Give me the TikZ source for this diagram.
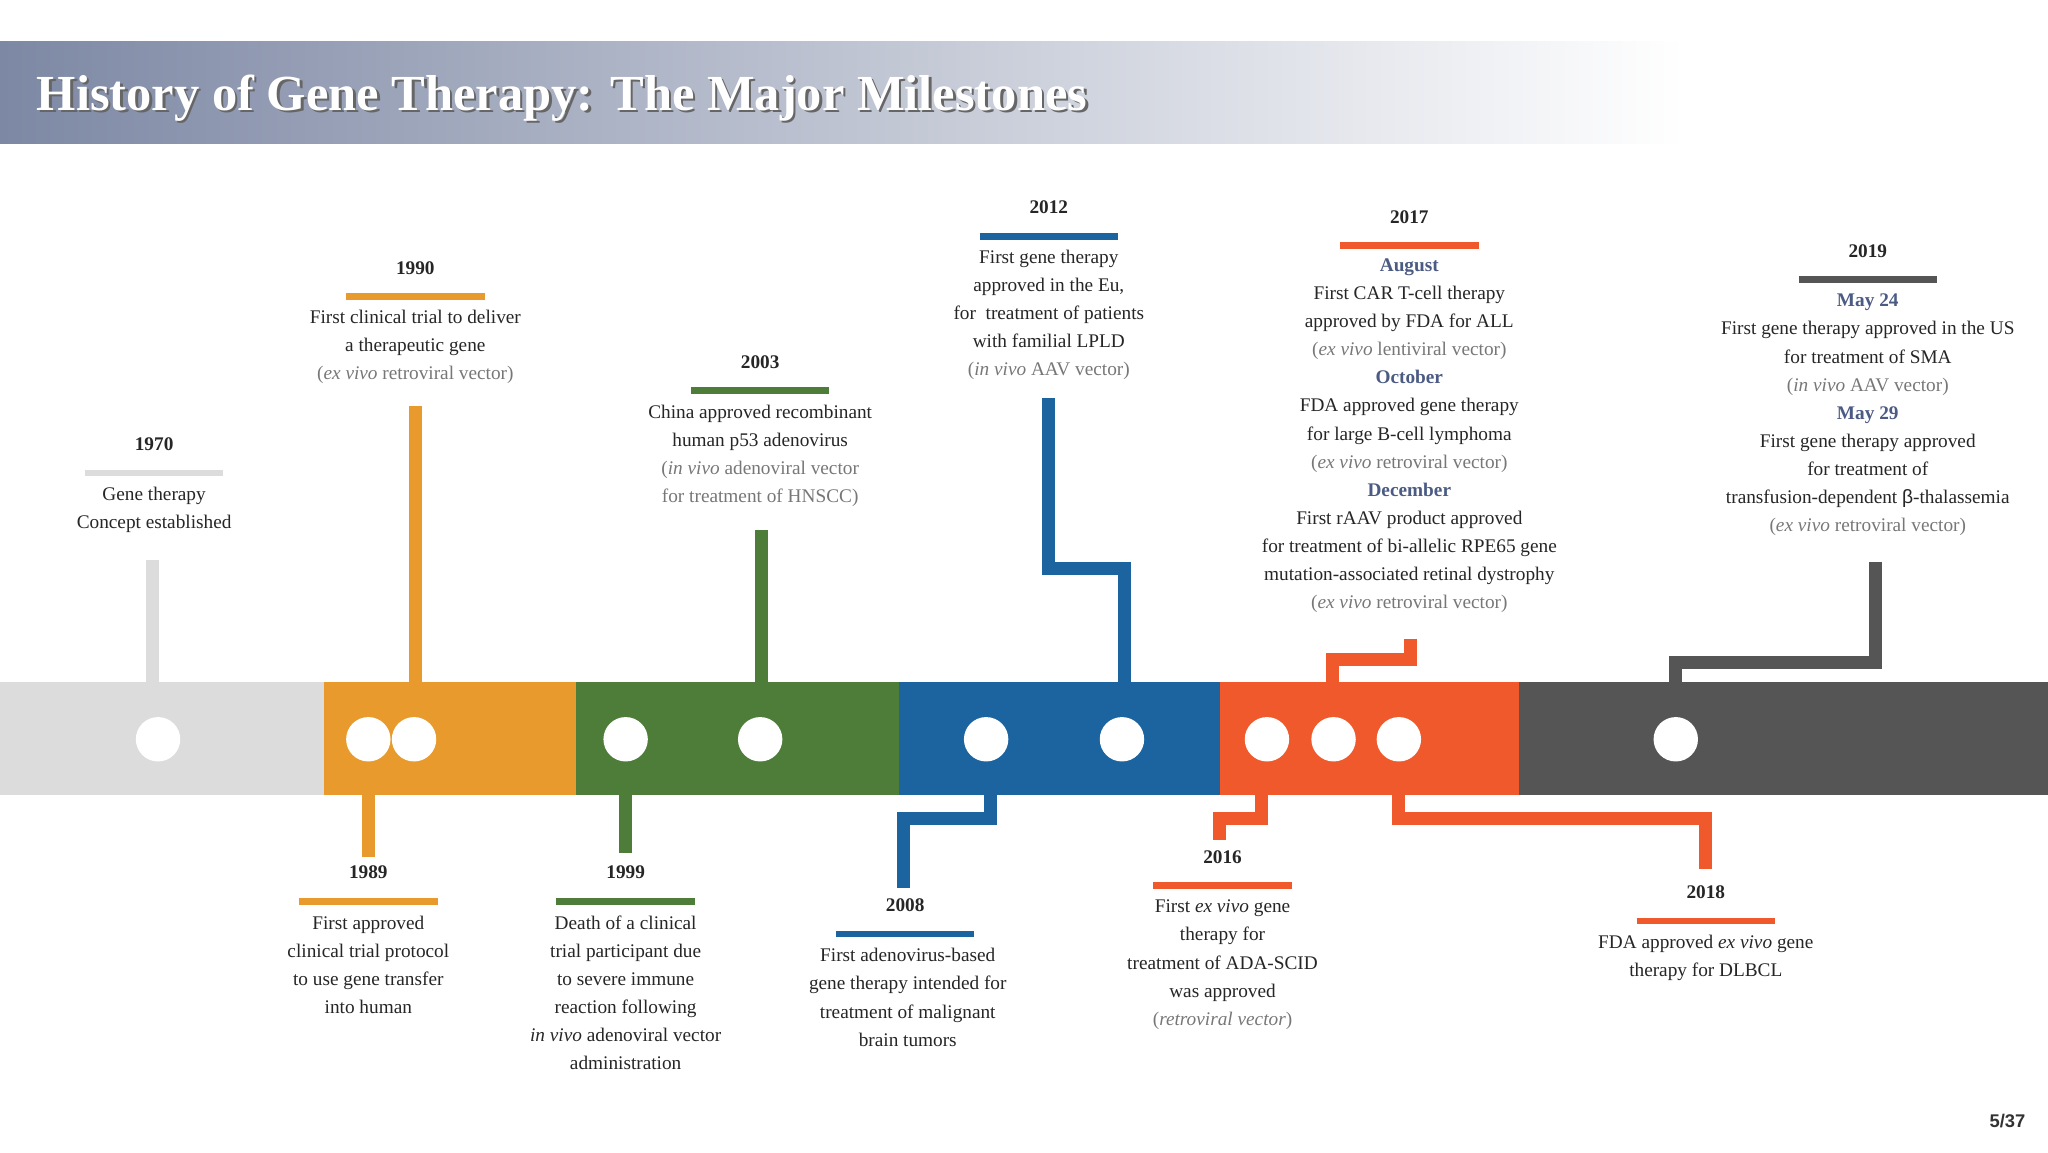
\documentclass[tikz,border=0pt]{standalone}
\usepackage{fontspec}
\setmainfont{Liberation Serif}
\newfontfamily\pgnum{Liberation Sans}
\usetikzlibrary{shadows}
\definecolor{lg}{HTML}{DCDCDC}
\definecolor{og}{HTML}{E99A2C}
\definecolor{gr}{HTML}{4E7D3A}
\definecolor{bl}{HTML}{1B64A0}
\definecolor{rd}{HTML}{F0592B}
\definecolor{dg}{HTML}{555555}
\definecolor{gt}{HTML}{777777}
\definecolor{mo}{HTML}{4B5B84}
\definecolor{ban}{HTML}{7D88A4}
\newcommand\gp[1]{\textcolor{gt}{#1}}
\newcommand\mon[1]{\textcolor{mo}{\bfseries #1}}
\begin{document}
\begin{tikzpicture}[x=0.05cm,y=-0.05cm,
  txt/.style={font=\fontsize{21}{30.6}\selectfont, align=center, anchor=north, inner sep=0pt, text=black!85},
  yr/.style={font=\fontsize{21}{25}\selectfont\bfseries, inner sep=0pt, text=black!85},
  ubar/.style={line width=0.25cm},
  conn/.style={line width=0.5cm},
  dot/.style={circle, fill=white, minimum size=1.7cm, inner sep=0pt}]
\useasboundingbox (0,0) rectangle (1568,882);
\fill[white] (0,0) rectangle (1568,882);
% banner
\shade[left color=ban, right color=white] (0,32) rectangle (1290,110);
\node[anchor=west, font=\fontsize{55}{60}\selectfont\bfseries, text=black!60, inner sep=0pt] (tsh) at (30,77) {History of Gene Therapy: The Major Milestones};
\node[anchor=west, font=\fontsize{55}{60}\selectfont\bfseries, text=white, inner sep=0pt] (title) at (28,75) {History of Gene Therapy: The Major Milestones};
% band
\fill[lg] (0,522) rectangle (248,609);
\fill[og] (248,522) rectangle (441,609);
\fill[gr] (441,522) rectangle (688,609);
\fill[bl] (688,522) rectangle (934,609);
\fill[rd] (934,522) rectangle (1163,609);
\fill[dg] (1163,522) rectangle (1568,609);
\foreach \x/\n in {121/a,282/b,317/c,479/d,582/e,755/f,859/g,970/h,1021/i,1071/j,1283/k}
  \node[dot] (d\n) at (\x,566) {};
% connectors above
\draw[conn,lg] (117,429) -- (117,522);
\draw[conn,og] (318,311) -- (318,522);
\draw[conn,gr] (583,406) -- (583,522);
\draw[conn,bl] (803,305) -- (803,435) -- (861,435) -- (861,522);
\draw[conn,rd] (1080,489) -- (1080,505) -- (1020,505) -- (1020,522);
\draw[conn,dg] (1436,430) -- (1436,507) -- (1283,507) -- (1283,522);
% connectors below
\draw[conn,og] (282,609) -- (282,656);
\draw[conn,gr] (479,609) -- (479,653);
\draw[conn,bl] (758,609) -- (758,627) -- (692,627) -- (692,680);
\draw[conn,rd] (966,609) -- (966,627) -- (934,627) -- (934,643);
\draw[conn,rd] (1071,609) -- (1071,627) -- (1306,627) -- (1306,665);
% years and bars
\foreach \x/\y/\c/\t in {118/340/lg/1970, 318/205/og/1990, 582/277/gr/2003, 803/159/bl/2012, 1079/166/rd/2017, 1430/192/dg/2019, 282/668/og/1989, 479/668/gr/1999, 693/693/bl/2008, 936/656/rd/2016, 1306/683/rd/2018}{
  \node[yr] (y\t) at (\x,\y) {\t};
  \draw[ubar,\c] (\x-53,\y+22) -- (\x+53,\y+22);
}
% texts
\node[txt] (t1970) at (118,373) {Gene therapy\\Concept established};
\node[txt] (t1990) at (318,237) {First clinical trial to deliver\\a therapeutic gene\\\gp{(\emph{ex vivo} retroviral vector)}};
\node[txt] (t2003) at (582,310) {China approved recombinant\\human p53 adenovirus\\\gp{(\emph{in vivo} adenoviral vector}\\\gp{for treatment of HNSCC)}};
\node[txt] (t2012) at (803,191) {First gene therapy\\approved in the Eu,\\for\ \ treatment of patients\\with familial LPLD\\\gp{(\emph{in vivo} AAV vector)}};
\node[txt] (t2017) at (1079,198) {\mon{August}\\First CAR T-cell therapy\\approved by FDA for ALL\\\gp{(\emph{ex vivo} lentiviral vector)}\\\mon{October}\\FDA approved gene therapy\\for large B-cell lymphoma\\\gp{(\emph{ex vivo} retroviral vector)}\\\mon{December}\\First rAAV product approved\\for treatment of bi-allelic RPE65 gene\\mutation-associated retinal dystrophy\\\gp{(\emph{ex vivo} retroviral vector)}};
\node[txt] (t2019) at (1430,225) {\mon{May 24}\\First gene therapy approved in the US\\for treatment of SMA\\\gp{(\emph{in vivo} AAV vector)}\\\mon{May 29}\\First gene therapy approved\\for treatment of\\transfusion-dependent {\pgnum β}-thalassemia\\\gp{(\emph{ex vivo} retroviral vector)}};
\node[txt] (t1989) at (282,701) {First approved\\clinical trial protocol\\to use gene transfer\\into human};
\node[txt] (t1999) at (479,701) {Death of a clinical\\trial participant due\\to severe immune\\reaction following\\\emph{in vivo} adenoviral vector\\administration};
\node[txt] (t2008) at (695,726) {First adenovirus-based\\gene therapy intended for\\treatment of malignant\\brain tumors};
\node[txt] (t2016) at (936,689) {First \emph{ex vivo} gene\\therapy for\\treatment of ADA-SCID\\was approved\\\gp{(\emph{retroviral vector})}};
\node[txt] (t2018) at (1306,716) {FDA approved \emph{ex vivo} gene\\therapy for DLBCL};
\node[font=\pgnum\fontsize{20}{24}\selectfont\bfseries, text=black!80, inner sep=0pt] (pg) at (1537,858) {5/37};
\end{tikzpicture}
\end{document}
